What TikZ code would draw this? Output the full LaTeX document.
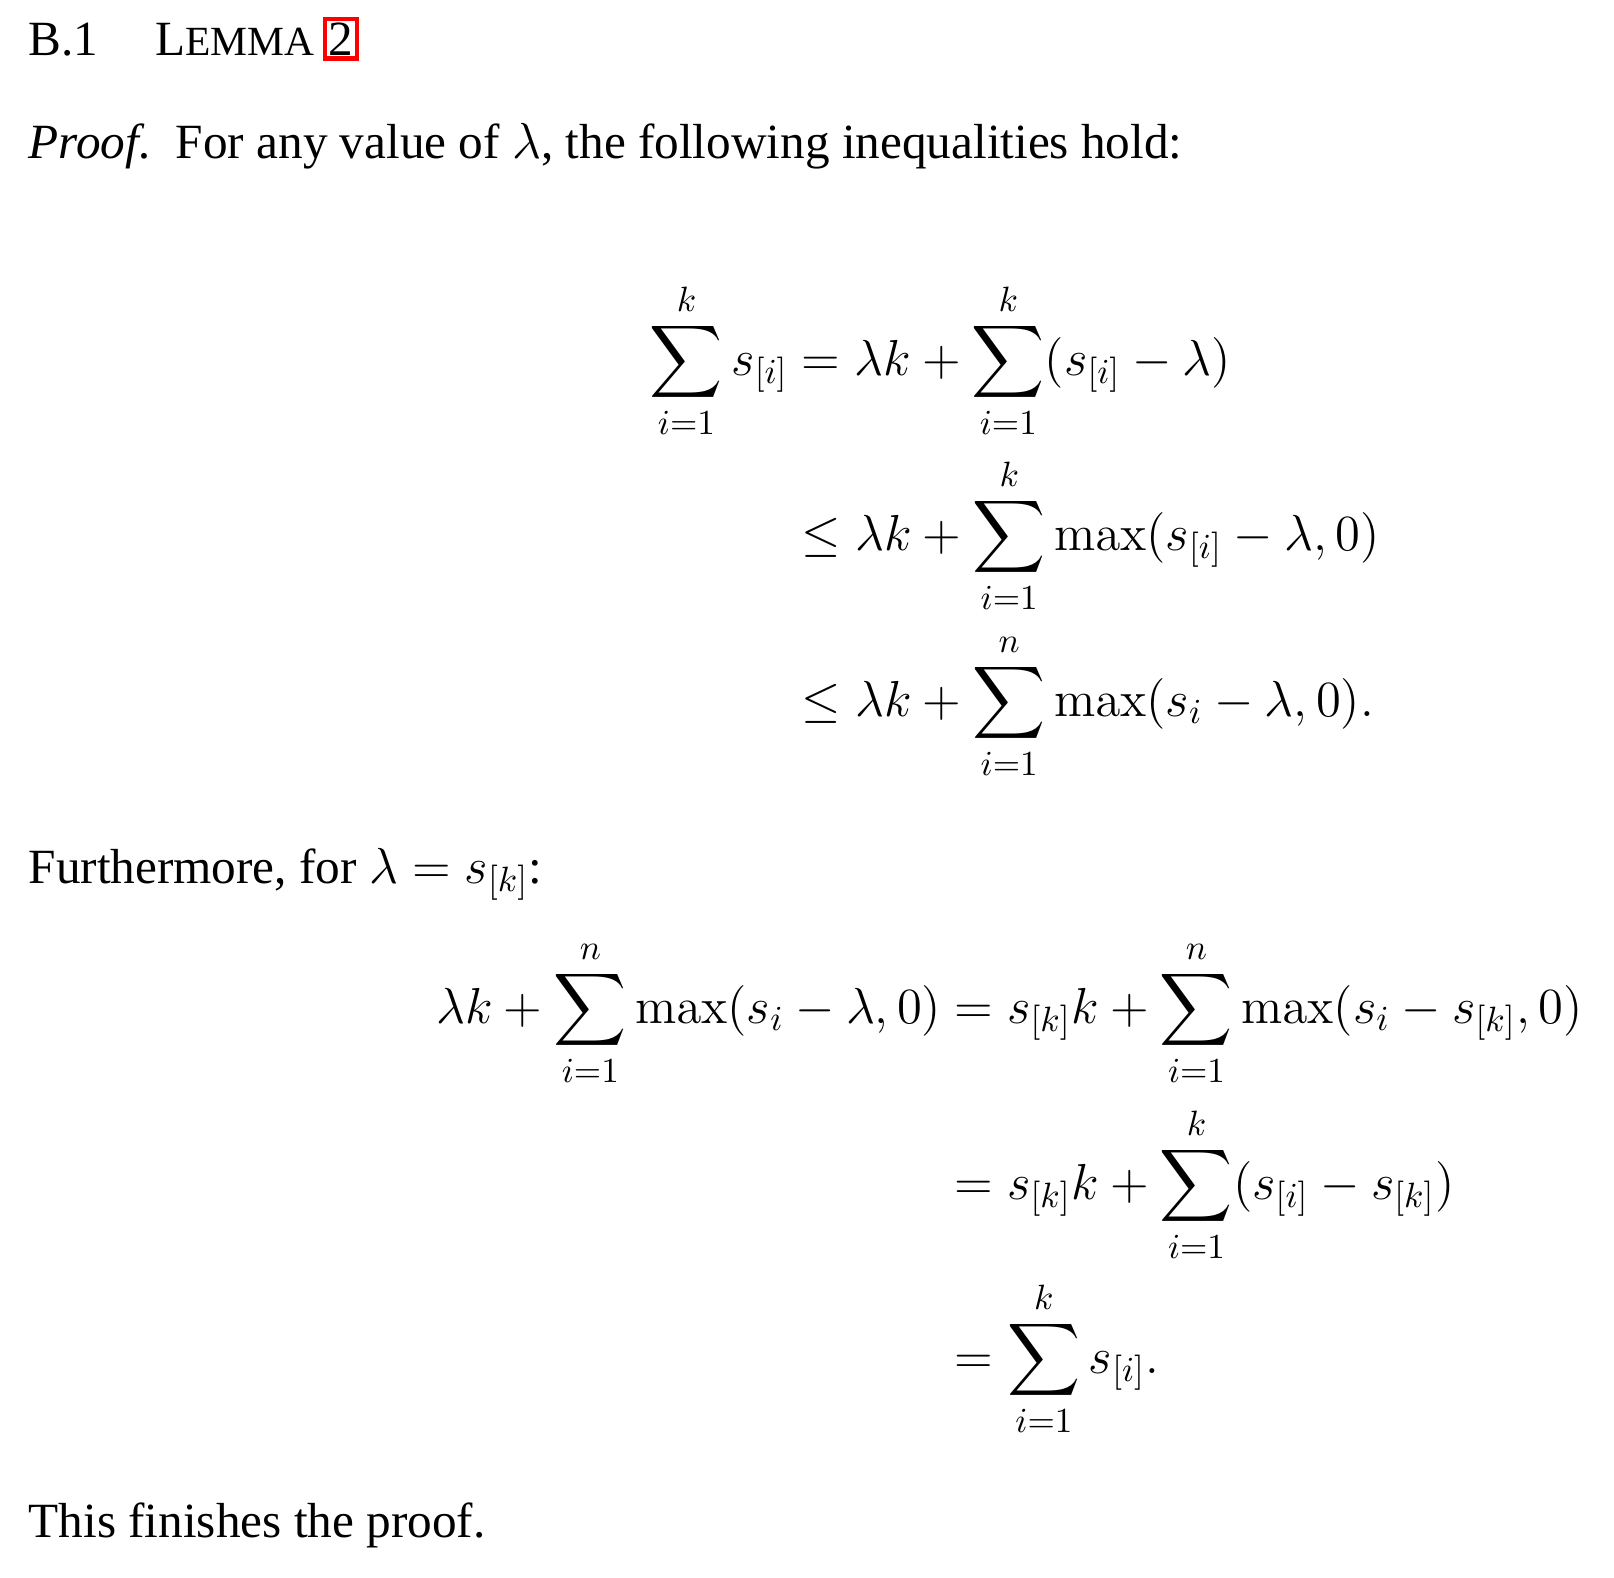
\documentclass[tikz,border=0pt]{standalone}
\usepackage{amsmath}
\usepackage[no-math]{fontspec}
\setmainfont{Liberation Serif}
\begin{document}
\begin{tikzpicture}[x=0.01cm,y=-0.01cm,
  t/.style={inner sep=0,font=\fontsize{13.7}{16}\selectfont},
  tx/.style={inner sep=0,font=\fontsize{14}{16}\selectfont},
  lab/.style={tx,anchor=base west},
  lhs/.style={t,anchor=base east},
  rhs/.style={t,anchor=base west}]
\useasboundingbox (0,0) rectangle (1614,1578);
\node[lab] (title) at (28,55) {B.1\hspace{1.15em}L{\fontsize{11.8}{12}\selectfont EMMA}\,};
\node[tx,anchor=base west,draw=red,line width=1.2pt,inner sep=1pt] (ref) at (title.base east) {2};
\node[lab] (proof) at (28,158) {\textit{Proof.}\enspace For any value of $\lambda$, the following inequalities hold:};
% block 1
\node[lhs] (a0) at (797,375) {$\displaystyle\sum_{i=1}^{k} s_{[i]}$\,};
\node[rhs] (a1) at (801,375) {$\displaystyle = \lambda k + \sum_{i=1}^{k}(s_{[i]}-\lambda)$};
\node[rhs] (a2) at (801,550) {$\displaystyle \le \lambda k + \sum_{i=1}^{k}\max(s_{[i]}-\lambda,0)$};
\node[rhs] (a3) at (801,716) {$\displaystyle \le \lambda k + \sum_{i=1}^{n}\max(s_{i}-\lambda,0).$};
\node[lab] (furth) at (28,883) {Furthermore, for $\lambda = s_{[k]}$:};
% block 2
\node[lhs] (b0) at (950,1023) {$\displaystyle \lambda k + \sum_{i=1}^{n}\max(s_{i}-\lambda,0)$\,};
\node[rhs] (b1) at (954,1023) {$\displaystyle = s_{[k]}k + \sum_{i=1}^{n}\max(s_{i}-s_{[k]},0)$};
\node[rhs] (b2) at (954,1199) {$\displaystyle = s_{[k]}k + \sum_{i=1}^{k}(s_{[i]}-s_{[k]})$};
\node[rhs] (b3) at (954,1373) {$\displaystyle = \sum_{i=1}^{k} s_{[i]}.$};
\node[lab] (fin) at (28,1537) {This finishes the proof.};
\end{tikzpicture}
\end{document}
